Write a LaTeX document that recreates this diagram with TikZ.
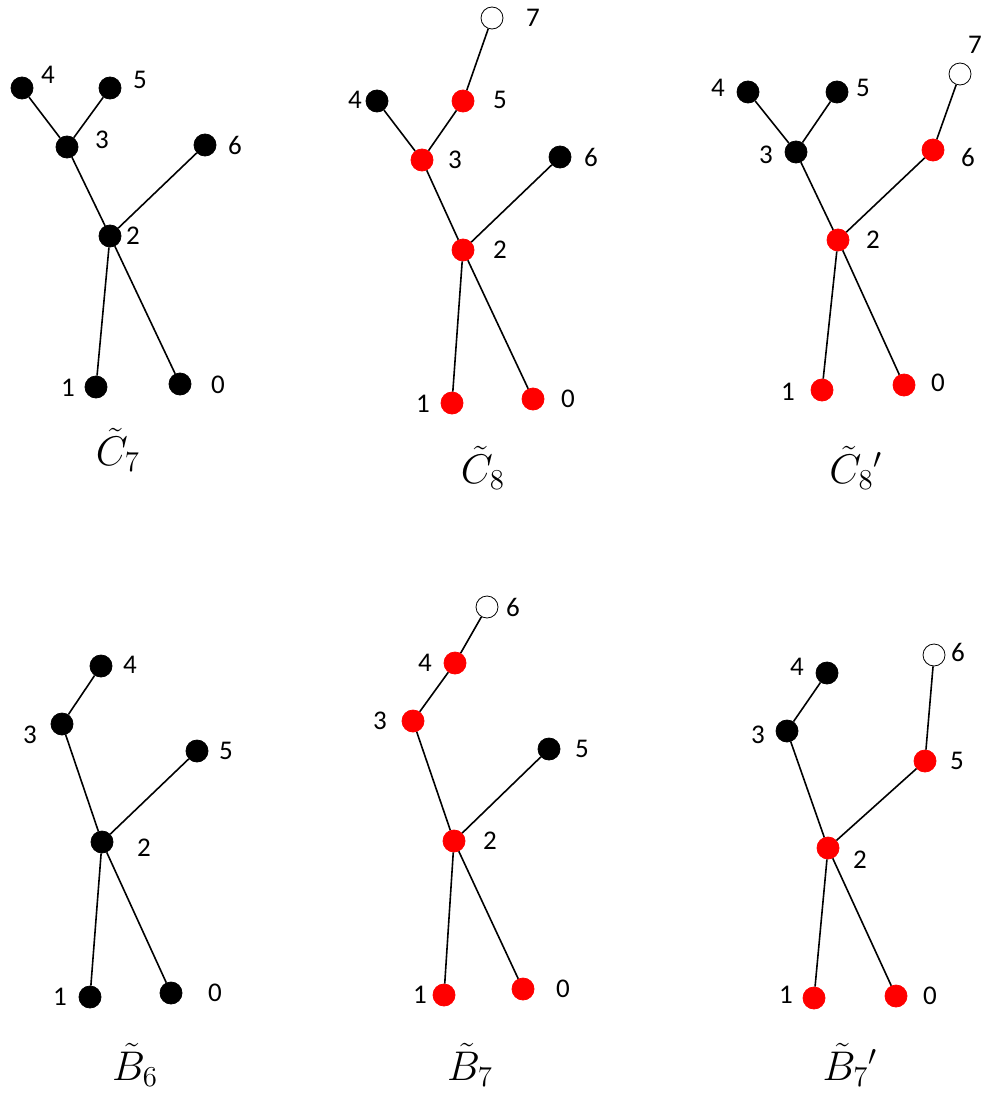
\documentclass[tikz,border=0pt]{standalone}
\usepackage{fontspec}
\setmainfont{Carlito}
\begin{document}
\begin{tikzpicture}[x=0.5pt,y=-0.5pt,
  bk/.style={circle,fill=black,draw=black,inner sep=0pt,minimum size=11pt},
  rd/.style={circle,fill=red,draw=red,inner sep=0pt,minimum size=11pt},
  wt/.style={circle,fill=white,draw=black,inner sep=0pt,minimum size=11pt},
  lb/.style={font=\fontsize{13.5}{15}\selectfont},
  captxt/.style={font=\fontsize{20}{24}\selectfont},
  ed/.style={line width=0.8pt}]
\useasboundingbox (0,0) rectangle (992,1102);
% Panel 1
\node[bk] (a4) at (22,88) {}; \node[bk] (a5) at (110,88) {};
\node[bk] (a3) at (67,147) {}; \node[bk] (a6) at (205,145) {};
\node[bk] (a2) at (110,236) {}; \node[bk] (a1) at (96,387) {};
\node[bk] (a0) at (180,384) {};
\draw[ed] (a4)--(a3) (a5)--(a3) (a3)--(a2) (a6)--(a2) (a2)--(a1) (a2)--(a0);
\node[lb] (la4) at (48,75) {4}; \node[lb] (la5) at (140,80) {5};
\node[lb] (la3) at (102,140) {3}; \node[lb] (la6) at (235,145) {6};
\node[lb] (la2) at (133,236) {2}; \node[lb] (la1) at (68,388) {1};
\node[lb] (la0) at (218,385) {0};
\node[captxt] (ca) at (118,450) {$\tilde{C}_7$};
% Panel 2
\node[wt] (b7) at (492,18) {}; \node[bk] (b4) at (377,101) {};
\node[rd] (b5) at (463,101) {}; \node[rd] (b3) at (422,160) {};
\node[bk] (b6) at (560,157) {}; \node[rd] (b2) at (463,250) {};
\node[rd] (b1) at (452,403) {}; \node[rd] (b0) at (533,399) {};
\draw[ed] (b7)--(b5) (b5)--(b3) (b4)--(b3) (b3)--(b2) (b6)--(b2) (b2)--(b1) (b2)--(b0);
\node[lb] (lb7) at (533,18) {7}; \node[lb] (lb4) at (355,100) {4};
\node[lb] (lb5) at (500,100) {5}; \node[lb] (lb3) at (455,160) {3};
\node[lb] (lb6) at (591,157) {6}; \node[lb] (lb2) at (500,250) {2};
\node[lb] (lb1) at (423,404) {1}; \node[lb] (lb0) at (568,399) {0};
\node[captxt] (cb) at (483,468) {$\tilde{C}_8$};
% Panel 3
\node[bk] (c4) at (748,92) {}; \node[bk] (c5) at (837,92) {};
\node[bk] (c3) at (796,152) {}; \node[wt] (c7) at (960,74) {};
\node[rd] (c6) at (933,150) {}; \node[rd] (c2) at (838,240) {};
\node[rd] (c1) at (822,390) {}; \node[rd] (c0) at (904,385) {};
\draw[ed] (c4)--(c3) (c5)--(c3) (c3)--(c2) (c7)--(c6) (c6)--(c2) (c2)--(c1) (c2)--(c0);
\node[lb] (lc4) at (718,88) {4}; \node[lb] (lc5) at (863,88) {5};
\node[lb] (lc3) at (766,155) {3}; \node[lb] (lc7) at (975,45) {7};
\node[lb] (lc6) at (968,157) {6}; \node[lb] (lc2) at (873,240) {2};
\node[lb] (lc1) at (788,392) {1}; \node[lb] (lc0) at (938,383) {0};
\node[captxt] (cc) at (856,468) {$\tilde{C}_8{}'$};
% Panel 4
\node[bk] (d4) at (101,666) {}; \node[bk] (d3) at (62,724) {};
\node[bk] (d5) at (197,751) {}; \node[bk] (d2) at (102,842) {};
\node[bk] (d1) at (90,997) {}; \node[bk] (d0) at (171,993) {};
\draw[ed] (d4)--(d3) (d3)--(d2) (d5)--(d2) (d2)--(d1) (d2)--(d0);
\node[lb] (ld4) at (130,665) {4}; \node[lb] (ld3) at (30,735) {3};
\node[lb] (ld5) at (226,751) {5}; \node[lb] (ld2) at (144,848) {2};
\node[lb] (ld1) at (60,997) {1}; \node[lb] (ld0) at (215,993) {0};
\node[captxt] (cd) at (135,1065) {$\tilde{B}_6$};
% Panel 5
\node[wt] (e6) at (487,607) {}; \node[rd] (e4) at (455,663) {};
\node[rd] (e3) at (413,721) {}; \node[bk] (e5) at (549,749) {};
\node[rd] (e2) at (454,841) {}; \node[rd] (e1) at (444,995) {};
\node[rd] (e0) at (523,989) {};
\draw[ed] (e6)--(e4) (e4)--(e3) (e3)--(e2) (e5)--(e2) (e2)--(e1) (e2)--(e0);
\node[lb] (le6) at (513,607) {6}; \node[lb] (le4) at (425,663) {4};
\node[lb] (le3) at (380,721) {3}; \node[lb] (le5) at (582,749) {5};
\node[lb] (le2) at (490,841) {2}; \node[lb] (le1) at (420,995) {1};
\node[lb] (le0) at (563,989) {0};
\node[captxt] (ce) at (470,1065) {$\tilde{B}_7$};
% Panel 6
\node[bk] (f4) at (827,673) {}; \node[bk] (f3) at (787,731) {};
\node[wt] (f6) at (934,655) {}; \node[rd] (f5) at (925,761) {};
\node[rd] (f2) at (828,848) {}; \node[rd] (f1) at (814,998) {};
\node[rd] (f0) at (896,996) {};
\draw[ed] (f4)--(f3) (f3)--(f2) (f6)--(f5) (f5)--(f2) (f2)--(f1) (f2)--(f0);
\node[lb] (lf4) at (797,667) {4}; \node[lb] (lf3) at (758,735) {3};
\node[lb] (lf6) at (958,652) {6}; \node[lb] (lf5) at (957,761) {5};
\node[lb] (lf2) at (860,860) {2}; \node[lb] (lf1) at (786,995) {1};
\node[lb] (lf0) at (930,996) {0};
\node[captxt] (cf) at (850,1065) {$\tilde{B}_7{}'$};
\end{tikzpicture}
\end{document}
